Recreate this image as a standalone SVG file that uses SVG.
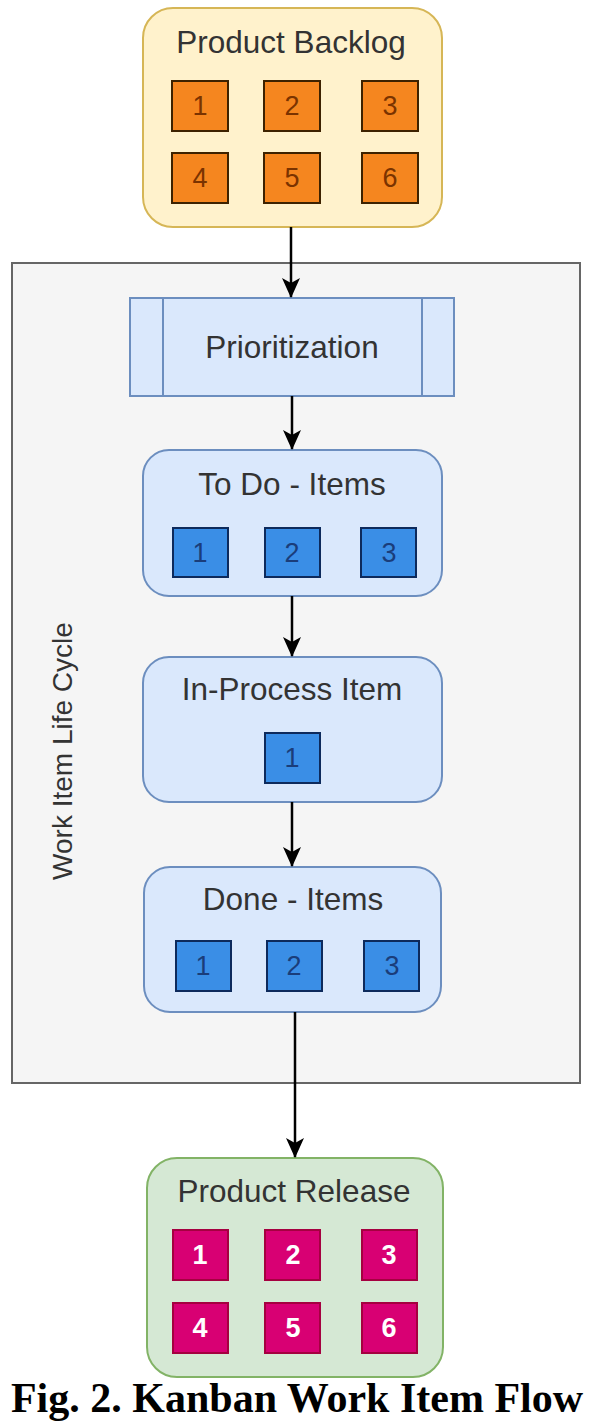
<svg xmlns="http://www.w3.org/2000/svg" width="596" height="1421" viewBox="0 0 596 1421">
<defs>
<style>
.title{font-family:"Liberation Sans",Arial,sans-serif;font-size:31.5px;fill:#333333;text-anchor:middle}
.num{font-family:"Liberation Sans",Arial,sans-serif;font-size:27px;text-anchor:middle}
.osq{fill:#F5861F;stroke:#3D2200;stroke-width:2}
.otx{fill:#7A3300}
.bsq{fill:#3A8EE6;stroke:#0D2A5C;stroke-width:2}
.btx{fill:#1A3D7A}
.msq{fill:#D80073;stroke:#A50040;stroke-width:2}
.mtx{fill:#FFFFFF;font-weight:bold}
.bbox{fill:#DAE8FC;stroke:#6C8EBF;stroke-width:2}
.conn{stroke:#000000;stroke-width:2.5;fill:none;marker-end:url(#arr)}
</style>
<marker id="arr" viewBox="0 0 20 20" refX="19" refY="10" markerWidth="20" markerHeight="20" markerUnits="userSpaceOnUse" orient="auto">
<path d="M0,1 L20,10 L0,19 L5,10 Z" fill="#000000"/>
</marker>
</defs>
<rect width="596" height="1421" fill="#FFFFFF"/>

<g id="container">
<rect x="12" y="263" width="568" height="820" fill="#F5F5F5" stroke="#666666" stroke-width="2"/>
<text class="title" transform="translate(72,751) rotate(-90)" style="font-size:28px">Work Item Life Cycle</text>
</g>

<g id="backlog">
<rect x="143" y="8" width="299" height="219" rx="30" fill="#FFF2CC" stroke="#D6B656" stroke-width="2"/>
<text class="title" x="291" y="53">Product Backlog</text>
<rect class="osq" x="172" y="81" width="56" height="50"/><text class="num otx" x="200" y="115">1</text>
<rect class="osq" x="264" y="81" width="56" height="50"/><text class="num otx" x="292" y="115">2</text>
<rect class="osq" x="362" y="81" width="56" height="50"/><text class="num otx" x="390" y="115">3</text>
<rect class="osq" x="172" y="153" width="56" height="50"/><text class="num otx" x="200" y="187">4</text>
<rect class="osq" x="264" y="153" width="56" height="50"/><text class="num otx" x="292" y="187">5</text>
<rect class="osq" x="362" y="153" width="56" height="50"/><text class="num otx" x="390" y="187">6</text>
</g>

<g id="prioritization">
<rect class="bbox" x="130" y="298" width="324" height="98"/>
<line x1="163" y1="298" x2="163" y2="396" stroke="#6C8EBF" stroke-width="2"/>
<line x1="422" y1="298" x2="422" y2="396" stroke="#6C8EBF" stroke-width="2"/>
<text class="title" x="292" y="358">Prioritization</text>
</g>

<g id="todo">
<rect class="bbox" x="143" y="450" width="299" height="146" rx="26"/>
<text class="title" x="292" y="495">To Do - Items</text>
<rect class="bsq" x="173" y="528" width="55" height="49"/><text class="num btx" x="200" y="562">1</text>
<rect class="bsq" x="265" y="528" width="55" height="49"/><text class="num btx" x="292" y="562">2</text>
<rect class="bsq" x="361" y="528" width="55" height="49"/><text class="num btx" x="389" y="562">3</text>
</g>

<g id="inprocess">
<rect class="bbox" x="143" y="657" width="299" height="145" rx="26"/>
<text class="title" x="292" y="700">In-Process Item</text>
<rect class="bsq" x="265" y="733" width="55" height="50"/><text class="num btx" x="292" y="767">1</text>
</g>

<g id="done">
<rect class="bbox" x="144" y="867" width="297" height="145" rx="26"/>
<text class="title" x="293" y="910">Done - Items</text>
<rect class="bsq" x="176" y="941" width="55" height="50"/><text class="num btx" x="203" y="975">1</text>
<rect class="bsq" x="267" y="941" width="55" height="50"/><text class="num btx" x="294" y="975">2</text>
<rect class="bsq" x="364" y="941" width="55" height="50"/><text class="num btx" x="392" y="975">3</text>
</g>

<g id="release">
<rect x="147" y="1158" width="296" height="219" rx="30" fill="#D5E8D4" stroke="#82B366" stroke-width="2"/>
<text class="title" x="294" y="1202">Product Release</text>
<rect class="msq" x="173" y="1230" width="55" height="50"/><text class="num mtx" x="200" y="1264">1</text>
<rect class="msq" x="265" y="1230" width="55" height="50"/><text class="num mtx" x="293" y="1264">2</text>
<rect class="msq" x="362" y="1230" width="55" height="50"/><text class="num mtx" x="389" y="1264">3</text>
<rect class="msq" x="173" y="1303" width="55" height="50"/><text class="num mtx" x="200" y="1337">4</text>
<rect class="msq" x="265" y="1303" width="55" height="50"/><text class="num mtx" x="293" y="1337">5</text>
<rect class="msq" x="362" y="1303" width="55" height="50"/><text class="num mtx" x="389" y="1337">6</text>
</g>

<g id="connectors">
<line class="conn" x1="291" y1="227" x2="291" y2="297"/>
<line class="conn" x1="292" y1="396" x2="292" y2="449"/>
<line class="conn" x1="292" y1="596" x2="292" y2="656"/>
<line class="conn" x1="292" y1="802" x2="292" y2="866"/>
<line class="conn" x1="295" y1="1012" x2="295" y2="1157"/>
</g>

<text id="caption" x="297" y="1412" text-anchor="middle" style="font-family:'Liberation Serif','Times New Roman',serif;font-size:42px;font-weight:bold;fill:#000000">Fig. 2. Kanban Work Item Flow</text>
</svg>
